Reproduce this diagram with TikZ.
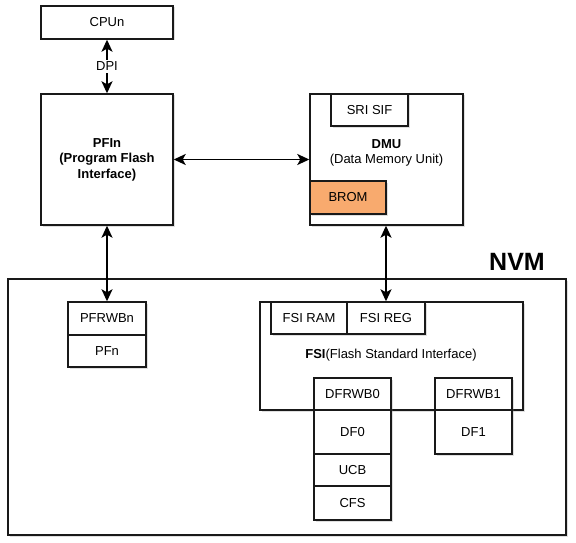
\documentclass[tikz,border=0pt]{standalone}
\usepackage{fontspec}
\setmainfont{Liberation Sans}
\usepackage{tikz}
\usetikzlibrary{arrows.meta,shadows,calc}

\tikzset{
  blk/.style={draw=black!90, line width=1.4pt, fill=white, inner sep=0pt,
    drop shadow={shadow xshift=1.5pt, shadow yshift=-1.5pt, opacity=0.25},
    font=\fontsize{13}{15.5}\selectfont, align=center},
  lbl/.style={inner sep=0pt, font=\fontsize{13}{15.5}\selectfont, align=center},
  link/.style={<->, line width=1.8pt, draw=black}
}
\definecolor{bromfill}{RGB}{248,170,110}

\begin{document}
\begin{tikzpicture}[x=1pt,y=-1pt, >={Stealth[length=12pt,width=11pt,inset=3pt]}]
\useasboundingbox (0,0) rectangle (576,543);
% upper part
\node[blk, minimum width=132pt, minimum height=33pt] (cpu) at (107,22.5) {CPUn};
\node[blk, minimum width=132pt, minimum height=131pt] (pfi) at (107,159.5)
  {\textbf{PFIn}\\\textbf{(Program Flash}\\\textbf{Interface)}};
\node[blk, minimum width=153pt, minimum height=131pt] (dmu) at (386.5,159.5) {};
\node[blk, minimum width=77pt, minimum height=32pt] (sri) at (369.5,110) {SRI SIF};
\node[lbl] (dmutext) at (386.5,153) {\textbf{DMU}\\(Data Memory Unit)};
\node[blk, fill=bromfill, minimum width=76pt, minimum height=33pt] (brom) at (348,197.5) {BROM};
% NVM
\node[blk, minimum width=558pt, minimum height=256pt] (nvm) at (287,407) {};
\node[inner sep=0pt, font=\fontsize{25}{30}\selectfont\bfseries] (nvmtext) at (517,262) {NVM};
\node[blk, minimum width=78pt, minimum height=33pt] (pfrwb) at (107,318.5) {PFRWBn};
\node[blk, minimum width=78pt, minimum height=32pt] (pfn) at (107,351) {PFn};
\node[blk, minimum width=263pt, minimum height=108pt] (fsi) at (391.5,356) {};
\node[blk, minimum width=76pt, minimum height=32pt] (fsiram) at (309,318) {FSI RAM};
\node[blk, minimum width=78pt, minimum height=32pt] (fsireg) at (386,318) {FSI REG};
\node[lbl] (fsitext) at (391,355) {\textbf{FSI}(Flash Standard Interface)};
\node[blk, minimum width=77pt, minimum height=32pt] (dfrwb0) at (352.5,394) {DFRWB0};
\node[blk, minimum width=77pt, minimum height=44pt] (df0) at (352.5,432) {DF0};
\node[blk, minimum width=77pt, minimum height=32pt] (ucb) at (352.5,470) {UCB};
\node[blk, minimum width=77pt, minimum height=34pt] (cfs) at (352.5,503) {CFS};
\node[blk, minimum width=77pt, minimum height=32pt] (dfrwb1) at (473.5,394) {DFRWB1};
\node[blk, minimum width=77pt, minimum height=44pt] (df1) at (473.5,432) {DF1};
% connections
\draw[link] (cpu) -- node[lbl, fill=white, inner sep=2pt] (dpi) {DPI} (pfi);
\draw[link] (pfi) -- (dmu);
\draw[link] (pfi) -- (pfrwb);
\draw[link] (dmu.south -| fsireg) -- (fsireg);
\end{tikzpicture}
\end{document}
